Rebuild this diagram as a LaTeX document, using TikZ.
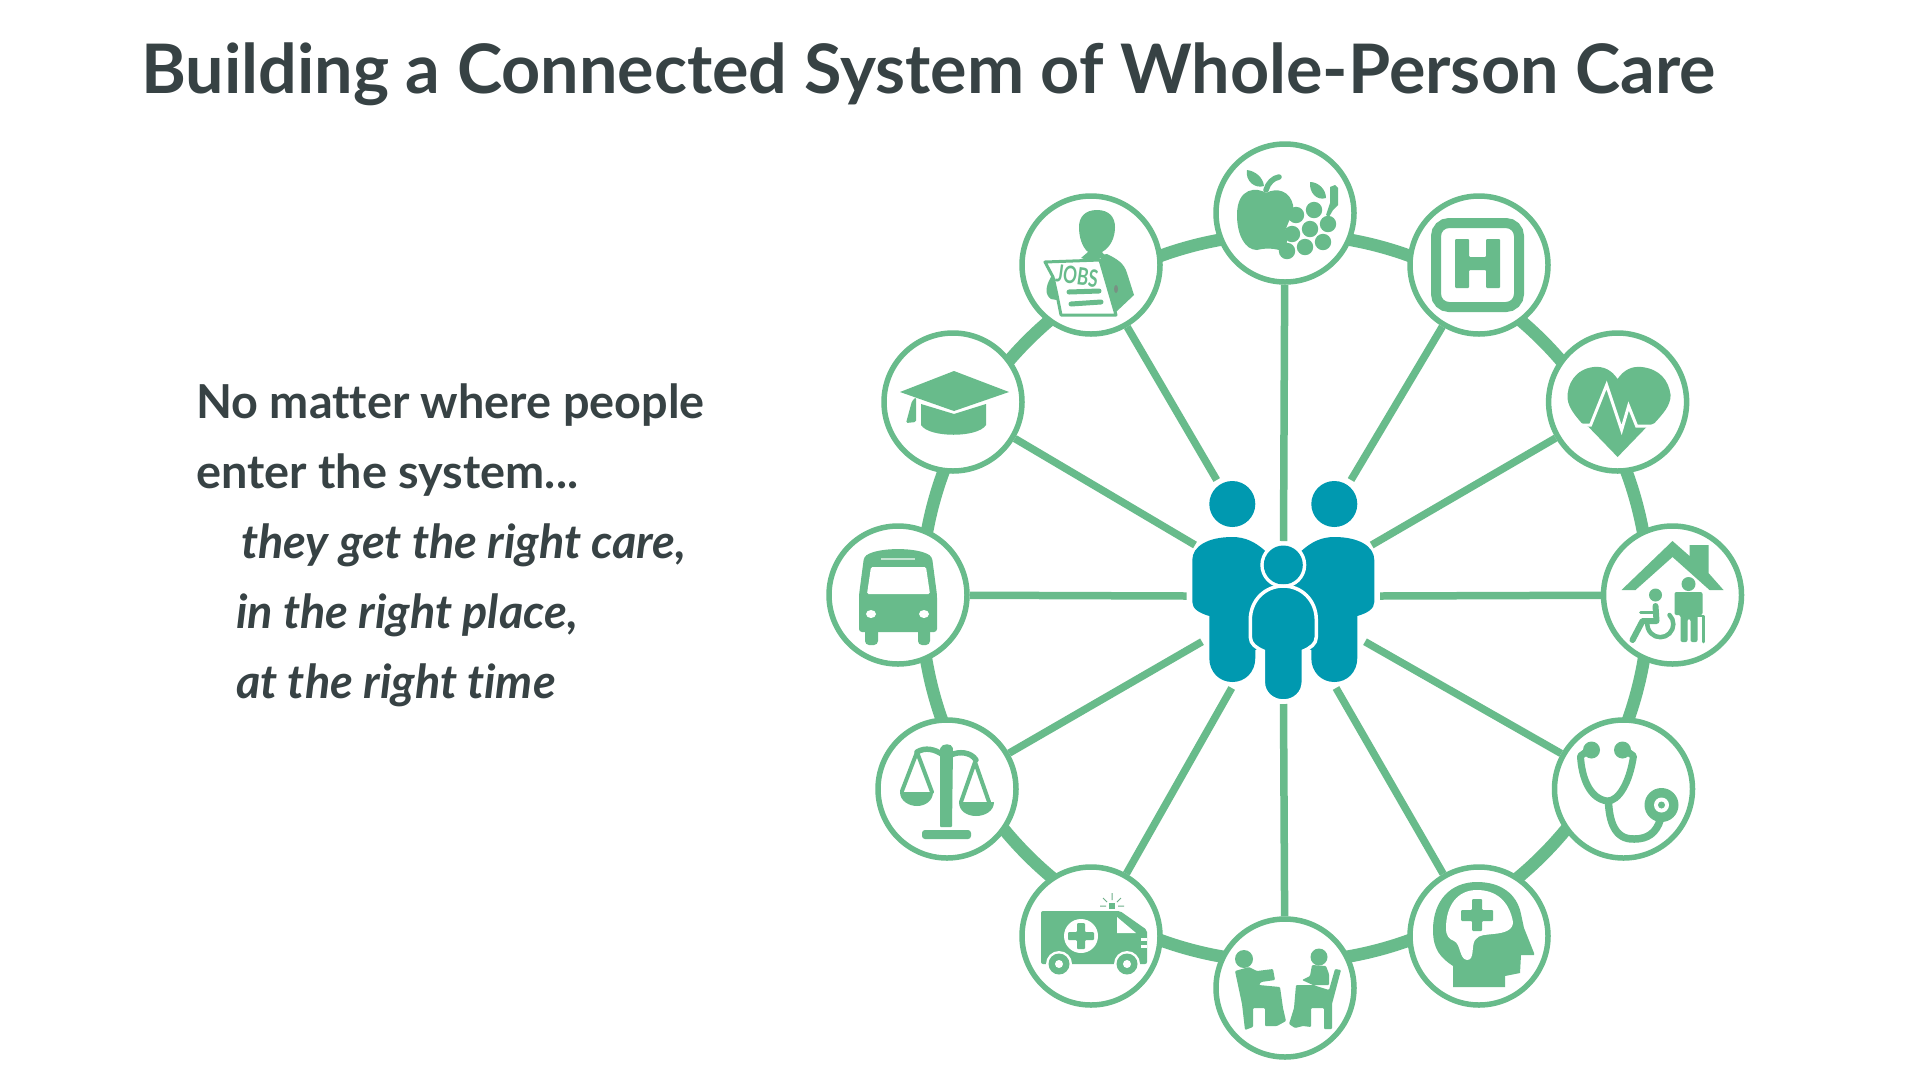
\documentclass[tikz,border=0pt]{standalone}
\usepackage{fontspec}
\setmainfont{Lato}[Ligatures=CommonOff]
\definecolor{gr}{HTML}{68BB8B}
\definecolor{teal0}{HTML}{0099B0}
\definecolor{ink}{HTML}{374244}
\tikzset{
  hub/.style={circle,draw=gr,line width=5.5pt,fill=white,minimum size=138pt,inner sep=0pt},
  spoke/.style={draw=gr,line width=7.5pt},
  ringline/.style={draw=gr,line width=12.5pt},
  ttl/.style={anchor=base west,inner sep=0pt,text=ink,font=\fontsize{68.3}{68.3}\selectfont\bfseries},
  body/.style={anchor=base west,inner sep=0pt,text=ink,font=\fontsize{46.8}{46.8}\selectfont\bfseries},
  ital/.style={anchor=base west,inner sep=0pt,text=ink,font=\fontsize{46.8}{46.8}\selectfont\bfseries\itshape},
  ic/.style={fill=gr,draw=none},
  wh/.style={fill=white,draw=none},
  gl/.style={draw=gr,line cap=round,line join=round,fill=none},
  wl/.style={draw=white,line cap=round,line join=round,fill=none}
}
\begin{document}
\begin{tikzpicture}[x=1pt,y=-1pt]
\useasboundingbox[fill=white] (0,0) rectangle (1920,1080);
% text
\node[ttl] (title) at (141,93) {Building a Connected System of Whole-Person Care};
\node[body] (l1) at (196,418) {No matter where people};
\node[body] (l2) at (196,488) {enter the system...};
\node[ital] (l3) at (241,558) {they get the right care,};
\node[ital] (l4) at (236,628) {in the right place,};
\node[ital] (l5) at (236,698) {at the right time};
% ring
\draw[ringline] (1285,598) circle[radius=364];
% hubs
\node[hub] (food) at (1285,213) {};
\node[hub] (hosp) at (1479,265) {};
\node[hub] (heart) at (1617.6,402) {};
\node[hub] (home) at (1672.5,595) {};
\node[hub] (steth) at (1623.5,789) {};
\node[hub] (brain) at (1479,936) {};
\node[hub] (meet) at (1285,988) {};
\node[hub] (amb) at (1091,936) {};
\node[hub] (scale) at (947,789) {};
\node[hub] (bus) at (898,595) {};
\node[hub] (grad) at (953,402) {};
\node[hub] (jobs) at (1091,265) {};
% spoke ends
\coordinate (sfood) at (1283.5,541);
\coordinate (shosp) at (1351,480);
\coordinate (sheart) at (1371.7,545);
\coordinate (shome) at (1380,596);
\coordinate (ssteth) at (1365,641.7);
\coordinate (sbrain) at (1336,688);
\coordinate (smeet) at (1283.5,704);
\coordinate (samb) at (1231.7,688);
\coordinate (sscale) at (1202,641.7);
\coordinate (sbus) at (1186.7,596);
\coordinate (sgrad) at (1195,545);
\coordinate (sjobs) at (1216.7,480);
\foreach \n in {food,hosp,heart,home,steth,brain,meet,amb,scale,bus,grad,jobs}
  \draw[spoke] (\n) -- (s\n);
% family
\begin{scope}[shift={(1283.3,0)}]
\foreach \s in {1,-1}{
 \begin{scope}[xscale=\s]
  \fill[teal0] (-51,504) circle[radius=23];
  \fill[teal0] (-91,560) .. controls (-91,546) and (-75,537) .. (-51,537)
    .. controls (-38,537) and (-28,542) .. (-18,551) -- (-5,575) -- (-5,640) -- (-28,650) -- (-28,658)
    .. controls (-28,672) and (-38,682) .. (-51,682) .. controls (-64,682) and (-74,672) .. (-74,658)
    -- (-74,616) .. controls (-84,613) and (-91,609) .. (-91,602) -- cycle;
 \end{scope}}
 \fill[white] (0,565) circle[radius=23];
 \fill[teal0] (0,565) circle[radius=19.5];
 \path[fill=teal0,draw=white,line width=3.5pt] (-33,620) .. controls (-33,600) and (-18,586) .. (0,586)
   .. controls (18,586) and (33,600) .. (33,620) -- (33,637) .. controls (33,644) and (27,648) .. (20,651)
   -- (20,682) .. controls (20,693) and (11,701) .. (0,701) .. controls (-11,701) and (-20,693) .. (-20,682)
   -- (-20,651) .. controls (-27,648) and (-33,644) .. (-33,637) -- cycle;
\end{scope}
% grad
\begin{scope}[shift={(grad)}]
 \fill[ic] (1,-31) -- (56,-10) -- (1,9) -- (-53,-10) -- cycle;
 \fill[ic] (-32,2) -- (1,12) -- (33,2) -- (33,23) .. controls (25,36) and (-24,36) .. (-32,23) -- cycle;
 \fill[ic,rounded corners=1.5pt] (-37,-5) -- (-37,20) -- (-47,21) -- (-41,-1) -- cycle;
\end{scope}
% food
\begin{scope}[shift={(food)}]
 \fill[ic] (-19,-20) .. controls (-28,-26) and (-48,-26) .. (-48,2) .. controls (-48,22) and (-40,37) .. (-28,37)
   .. controls (-20,35) and (-14,35) .. (-6,37) .. controls (2,36) and (4,28) .. (0,18) -- (4,8) -- (9,2) -- (8,-8)
   .. controls (5,-22) and (-8,-26) .. (-19,-20) -- cycle;
 \fill[ic] (-38,-43) .. controls (-30,-42) and (-22,-36) .. (-21,-27) .. controls (-30,-24) and (-40,-32) .. (-38,-43) -- cycle;
 \draw[gl,line width=5.5pt] (-19,-23) .. controls (-17,-30) and (-12,-35) .. (-6,-36);
 \foreach \p in {(11,2),(29,-3),(25,16),(43,11),(7,21),(38,29),(20,34),(2,38)}
   \fill[ic] \p circle[radius=8.2];
 \fill[ic] (25,-31) .. controls (33,-31) and (41,-24) .. (41,-15) .. controls (32,-12) and (24,-20) .. (25,-31) -- cycle;
 \fill[ic] (45,-26) -- (50,-28) -- (53,-25) -- (53,-8) -- (48,-3) -- (44,4) -- (41,2) -- (45,-10) -- cycle;
\end{scope}
% hospital
\begin{scope}[shift={(hosp)}]
 \draw[draw=gr,line width=10pt,rounded corners=13pt] (-43,-42) rectangle (40,42);
 \fill[ic,rounded corners=1pt] (-24,-26) -- (-10,-26) -- (-10,-8) -- (7,-8) -- (7,-26) -- (21,-26) -- (21,23)
   -- (7,23) -- (7,5) -- (-10,5) -- (-10,23) -- (-24,23) -- cycle;
\end{scope}
% heart
\begin{scope}[shift={(heart)}]
 \fill[ic] (0,-23) .. controls (-6,-32) and (-14,-36) .. (-24,-35) .. controls (-42,-33) and (-51,-18) .. (-50,-3)
   .. controls (-49,6) and (-42,14) .. (-36,21) -- (-29,25) -- (0,55) -- (29,25) -- (37,21)
   .. controls (45,12) and (53,4) .. (53,-7) .. controls (51,-22) and (42,-33) .. (24,-35)
   .. controls (14,-36) and (6,-32) .. (0,-23) -- cycle;
 \draw[wl,line width=3pt,line cap=butt,line join=miter] (-50,23) -- (-27,23) -- (-11,-17) -- (4,28) -- (11,4) -- (19,24) -- (50,24);
\end{scope}
% home
\begin{scope}[shift={(home)}]
 \fill[ic] (0,-54) -- (17,-39) -- (17,-50) -- (36,-50) -- (36,-22) -- (51,-5) -- (37,-5) -- (0,-38) -- (-37,-5) -- (-51,-5) -- cycle;
 \fill[ic] (-17,0) circle[radius=6.5];
 \fill[ic] (16,-11) circle[radius=7];
 \draw[gl,line width=6pt] (-17,11) -- (-16,26) -- (-30,26) -- (-40,45);
 \draw[gl,line width=3pt] (-16,17) -- (-32,17);
 \draw[gl,line width=4.5pt] (-3,20) arc[start angle=-45,end angle=190,radius=13];
 \fill[ic,rounded corners=2pt] (2,-3) -- (30,-3) -- (30,20) -- (25,20) -- (25,47) -- (18,47) -- (18,24) -- (15,24) -- (15,47) -- (8,47) -- (8,20) -- (2,20) -- cycle;
 \draw[gl,line width=2.5pt] (25,21) -- (31,21) -- (31,47);
\end{scope}
% stethoscope
\begin{scope}[shift={(steth)}]
 \fill[ic] (-32,-39) circle[radius=8.5];
 \fill[ic] (-1,-39) circle[radius=8.5];
 \draw[gl,line width=7pt] (-32,-41) -- (-43,-33) .. controls (-42,-12) and (-34,10) .. (-16,12) .. controls (-5,12) and (6,-6) .. (10,-33) -- (-1,-41);
 \draw[gl,line width=7.5pt] (-15,14) .. controls (-14,30) and (-10,51) .. (11,50) .. controls (24,50) and (33,44) .. (37,30);
 \fill[ic] (38,16) circle[radius=17];
 \fill[wh] (38,16) circle[radius=7.5];
 \fill[ic] (38,16) circle[radius=3.5];
\end{scope}
% brain
\begin{scope}[shift={(brain)}]
 \fill[ic] (-26,51) -- (-26,30) .. controls (-38,22) and (-46,14) .. (-46,-6) .. controls (-46,-36) and (-28,-54) .. (-2,-54)
   .. controls (22,-54) and (38,-42) .. (42,-22) -- (45,-8) -- (55,17) -- (55,19) -- (42,19) -- (41,37) -- (26,40) -- (26,51) -- cycle;
 \fill[wh] (-33,-8) .. controls (-33,0) and (-30,3) .. (-25,5) .. controls (-18,8) and (-20,23) .. (-12,24)
   .. controls (-4,24) and (-8,10) .. (-4,4) .. controls (0,-2) and (8,-1) .. (14,-2) .. controls (26,-3) and (34,-6) .. (34,-14)
   .. controls (30,-36) and (16,-46) .. (-2,-46) .. controls (-22,-46) and (-33,-30) .. (-33,-8) -- cycle;
 \fill[ic,rounded corners=1pt] (-7,-37) -- (3,-37) -- (3,-26) -- (14,-26) -- (14,-15) -- (3,-15) -- (3,-5) -- (-7,-5) -- (-7,-15) -- (-18,-15) -- (-18,-26) -- (-7,-26) -- cycle;
\end{scope}
% meeting
\begin{scope}[shift={(meet)}]
 \fill[ic] (-41,-29) circle[radius=9];
 \fill[ic,rounded corners=1pt] (-50,-17) -- (-36,-21) -- (-28,-17) -- (-12,-19) -- (-10,-8) -- (-24,-6) -- (-26,-3) -- (-5,-1) -- (-2,20) -- (1,33) -- (-8,38) -- (-20,38) -- (-20,20) -- (-32,20) -- (-32,39) -- (-40,42) -- (-43,16) -- cycle;
 \fill[ic] (34,-31) circle[radius=8.5];
 \fill[ic,rounded corners=1pt] (27,-23) -- (41,-22) -- (44,-14) -- (44,-3) -- (11,-3) -- (9,20) -- (4,36) -- (10,40) -- (18,38) -- (26,39) -- (26,20) -- (39,20) -- (39,41) -- (47,41) -- (47,16) -- (56,-18) -- (50,-19) -- (44,2) -- (28,-3) -- (17,-8) -- (25,-12) -- cycle;
\end{scope}
% ambulance
\begin{scope}[shift={(amb)}]
 \fill[ic,rounded corners=2pt] (-50,-25) -- (29,-25) -- (56,-6) -- (56,28) -- (-50,28) -- cycle;
 \fill[wh] (26,-19) -- (45,-3) -- (26,-3) -- cycle;
 \fill[wh] (-10,0) circle[radius=17];
 \fill[ic,rounded corners=1pt] (-14,-13) -- (-6,-13) -- (-6,-4) -- (3,-4) -- (3,4) -- (-6,4) -- (-6,13) -- (-14,13) -- (-14,4) -- (-23,4) -- (-23,-4) -- (-14,-4) -- cycle;
 \foreach \p in {-32,36}{
   \fill[wh] (\p,28) circle[radius=13];
   \fill[ic] (\p,28) circle[radius=10.5];
   \fill[wh] (\p,28) circle[radius=4];
 }
 \fill[wh] (50,2) rectangle (56,5);
 \fill[wh] (50,9) rectangle (56,12);
 \fill[ic] (18,-33) rectangle (24,-27);
 \draw[draw=gr!80!gray,line width=1pt] (21,-43) -- (21,-36) (12,-38) -- (16,-34) (30,-38) -- (26,-34) (9,-30) -- (15,-30) (27,-30) -- (33,-30);
\end{scope}
% scales
\begin{scope}[shift={(scale)}]
 \fill[ic,rounded corners=1pt] (-7,-40) .. controls (-5,-46) and (5,-46) .. (6,-40) -- (5,38) -- (-7,38) -- cycle;
 \fill[ic,rounded corners=3pt] (-25,41) rectangle (24,50);
 \draw[gl,line width=5.5pt] (-30,-37) .. controls (-22,-42) and (-12,-40) .. (-4,-34) (4,-34) .. controls (12,-38) and (24,-37) .. (29,-29);
 \draw[gl,line width=4pt] (-45,2) -- (-30,-37) -- (-15,3) (14,13) -- (28,-27) -- (42,13);
 \fill[ic] (-47,3) -- (-14,3) .. controls (-14,12) and (-22,17) .. (-30,17) .. controls (-38,17) and (-47,12) .. (-47,3) -- cycle;
 \fill[ic] (12,13) -- (47,13) .. controls (47,22) and (38,27) .. (29,27) .. controls (20,27) and (12,22) .. (12,13) -- cycle;
\end{scope}
% bus
\begin{scope}[shift={(bus)}]
 \fill[ic,rounded corners=3pt] (-34,-38) .. controls (-20,-48) and (20,-48) .. (34,-38) -- (39,0) -- (39,37) -- (-39,37) -- (-39,0) -- cycle;
 \fill[wh,rounded corners=1.5pt] (-27,-28) -- (28,-28) -- (32,-1) -- (-31,-1) -- cycle;
 \fill[wh] (-27,19) ellipse[x radius=5,y radius=4];
 \fill[wh] (26,19) ellipse[x radius=5,y radius=4];
 \fill[ic,rounded corners=4pt] (-33,30) rectangle (-20,50);
 \fill[ic,rounded corners=4pt] (20,30) rectangle (32,50);
 \draw[draw=gr!40!white,line width=2.5pt] (-17,-36) -- (17,-36);
\end{scope}
% jobs
\begin{scope}[shift={(jobs)}]
 \fill[ic] (6,-55) .. controls (-6,-55) and (-12,-48) .. (-12,-38) .. controls (-12,-28) and (-9,-18) .. (-3,-13)
   -- (-10,-7) -- (0,-4) -- (15,-8) -- (11,-13) .. controls (20,-18) and (24,-28) .. (24,-38) .. controls (24,-48) and (18,-55) .. (6,-55) -- cycle;
 \fill[ic] (10,-10) -- (16,-11) .. controls (26,-6) and (33,-2) .. (36,8) -- (43,30) -- (25,47) -- (10,40) -- cycle;
 \fill[ic] (-40,12) .. controls (-46,22) and (-46,30) .. (-40,34) -- (-28,36) -- (-28,14) -- cycle;
 \draw[draw=gr,line width=3pt,line join=round,fill=white] (-46,-3) -- (9,-5) -- (25,50) -- (-30,50) -- (-34,30) -- (-38,12) -- cycle;
 \node[text=gr,inner sep=0pt,rotate=-8,xscale=.72,font=\fontsize{24}{24}\selectfont\bfseries] (jobstext) at (-14,11) {JOBS};
 \draw[gl,line width=5pt] (-22,27) -- (8,26) (-20,39) -- (10,37);
 \fill[gray!70!gr] (25,24) ellipse[x radius=2,y radius=4];
\end{scope}
\end{tikzpicture}
\end{document}
